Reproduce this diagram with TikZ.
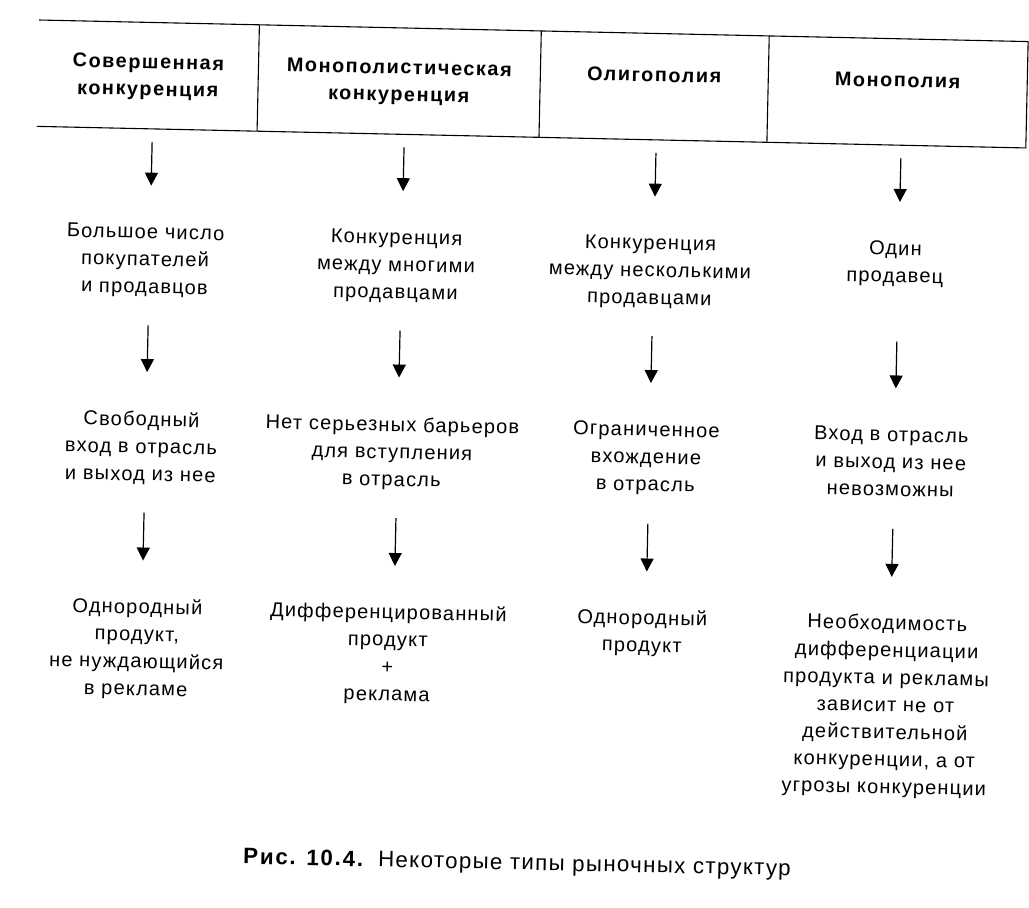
\documentclass[tikz,border=0pt]{standalone}
\usepackage{fontspec}
\setmainfont{Liberation Sans}[LetterSpace=6]
\newfontfamily\headfont{Liberation Sans}[LetterSpace=8,UprightFont=* Bold]
\usetikzlibrary{arrows.meta,calc}
\tikzset{
  cell/.style={rectangle, inner sep=0pt, minimum height=106pt},
  headtext/.style={anchor=north, align=center, inner sep=0pt,
    font=\headfont\fontsize{19.8}{27}\selectfont, execute at begin node=\strut},
  bodytext/.style={anchor=north, align=center, inner sep=0pt,
    font=\fontsize{20}{27.3}\selectfont, execute at begin node=\strut},
  frame/.style={line width=1.1pt},
  arr/.style={line width=1.2pt, -{Triangle[width=13pt,length=13pt]}}
}
\begin{document}
\begin{tikzpicture}[x=1pt,y=-1pt]
\useasboundingbox (0,0) rectangle (1029,908);
\begin{scope}[rotate around={-1.25:(530,450)}, transform shape]
% header cells
\node[cell, minimum width=220pt] (h1) at (140,84) {};
\node[cell, minimum width=282pt] (h2) at (391,84) {};
\node[cell, minimum width=228pt] (h3) at (646,84) {};
\node[cell, minimum width=259pt] (h4) at (889.5,84) {};
\draw[frame] (h1.north west) -- (h4.north east) -- (h4.south east) -- (h1.south west);
\draw[frame] (h1.north east) -- (h1.south east);
\draw[frame] (h2.north east) -- (h2.south east);
\draw[frame] (h3.north east) -- (h3.south east);
\node[headtext] (ht1) at (140,63) {Совершенная\\конкуренция};
\node[headtext] (ht2) at (391,63) {Монополистическая\\конкуренция};
\node[headtext] (ht3) at (646,60) {Олигополия};
\node[headtext] (ht4) at (889.5,60) {Монополия};
% arrow columns
\coordinate (a1) at (145.5,0);
\coordinate (a2) at (397.5,0);
\coordinate (a3) at (649.5,0);
\coordinate (a4) at (894.5,0);
% row 1
\node[bodytext] (t11) at (141,233) {Большое число\\покупателей\\и продавцов};
\node[bodytext] (t12) at (392,233) {Конкуренция\\между многими\\продавцами};
\node[bodytext] (t13) at (646,233) {Конкуренция\\между несколькими\\продавцами};
\node[bodytext] (t14) at (891,233) {Один\\продавец};
% row 2
\node[bodytext] (t21) at (141,419.5) {Свободный\\вход в отрасль\\и выход из нее};
\node[bodytext] (t22) at (392,419.5) {Нет серьезных барьеров\\для вступления\\в отрасль};
\node[bodytext] (t23) at (646,419.5) {Ограниченное\\вхождение\\в отрасль};
\node[bodytext] (t24) at (891,419.5) {Вход в отрасль\\и выход из нее\\невозможны};
% row 3
\node[bodytext] (t31) at (141,607) {Однородный\\продукт,\\не нуждающийся\\в рекламе};
\node[bodytext] (t32) at (392,607) {Дифференцированный\\продукт\\+\\реклама};
\node[bodytext] (t33) at (646,607) {Однородный\\продукт};
\node[bodytext] (t34) at (891,607) {Необходимость\\дифференциации\\продукта и рекламы\\зависит не от\\действительной\\конкуренции, а от\\угрозы конкуренции};
% arrows
\foreach \c in {1,2,3,4}{
  \draw[arr] ($(h\c.south -| a\c)+(0,13)$) -- ($(t1\c.north -| a\c)+(0,-39)$);
  \draw[arr] ($(t2\c.north -| a\c)+(0,-86)$) -- ($(t2\c.north -| a\c)+(0,-39)$);
  \draw[arr] ($(t3\c.north -| a\c)+(0,-86)$) -- ($(t3\c.north -| a\c)+(0,-38)$);
}
% caption
\node[anchor=base, inner sep=0pt, font=\fontsize{22.3}{26}\selectfont] (cap) at (526,870)
  {{\headfont Рис. 10.4.}\ \ Некоторые типы рыночных структур};
\end{scope}
\end{tikzpicture}
\end{document}
